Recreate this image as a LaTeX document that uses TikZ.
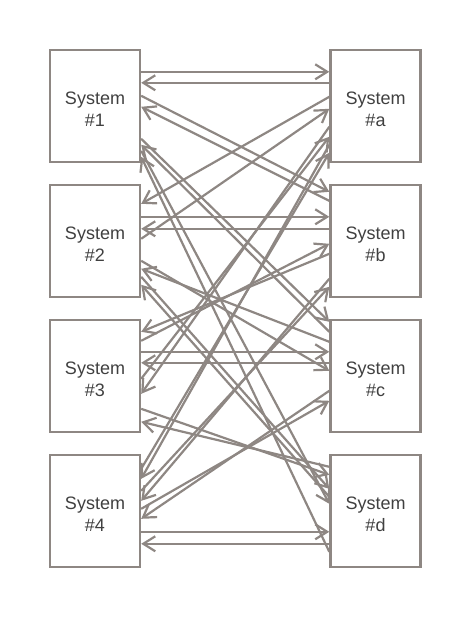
\documentclass[tikz,border=0pt]{standalone}
\usepackage{fontspec}
\setmainfont{Liberation Sans}
\usetikzlibrary{arrows.meta}
\definecolor{linegray}{RGB}{142,135,131}
\definecolor{textgray}{RGB}{64,64,64}
\newcommand{\sysname}[1]{\rule{0pt}{19pt}System\\\##1}
\begin{document}
\begin{tikzpicture}[
  x=1pt, y=-1pt,
  sysbox/.style={rectangle,draw=linegray,line width=2.4pt,fill=white,minimum width=90pt,minimum height=112pt,
    align=center,text=textgray,font=\fontsize{18}{22}\selectfont},
  arr/.style={draw=linegray,line width=2.2pt,-{Straight Barb[length=12pt,width=15pt,line width=2.2pt]}}
]
\useasboundingbox (0,0) rectangle (474,617);
% left column
\node[sysbox] (l1) at (95,106) {\sysname{1}};
\node[sysbox] (l2) at (95,241) {\sysname{2}};
\node[sysbox] (l3) at (95,376) {\sysname{3}};
\node[sysbox] (l4) at (95,511) {\sysname{4}};
% right column
\node[sysbox] (ra) at (375.5,106) {\sysname{a}};
\node[sysbox] (rb) at (375.5,241) {\sysname{b}};
\node[sysbox] (rc) at (375.5,376) {\sysname{c}};
\node[sysbox] (rd) at (375.5,511) {\sysname{d}};
% left to right
\foreach \l/\lo/\r/\ro in {l1/23/ra/23, l1/47/rb/8, l1/90/rc/3, l1/102/rd/50,
    l2/55/ra/60, l2/33/rb/33, l2/77/rc/52, l2/93/rd/35,
    l3/60/ra/88, l3/22/rb/60, l3/33/rc/33, l3/90/rd/21,
    l4/15/ra/104, l4/37/rb/103, l4/55/rc/82, l4/78/rd/78}
  \draw[arr] ([yshift=-\lo pt]\l.north east) -- ([yshift=-\ro pt]\r.north west);
% right to left
\foreach \r/\ro/\l/\lo in {ra/34/l1/34, rb/17/l1/58, rc/13/l1/96, rd/98/l1/108,
    ra/48/l2/20, rb/45/l2/45, rc/23/l2/85, rd/43/l2/101,
    ra/78/l3/75, rb/70/l3/13, rc/44/l3/44, rd/13/l3/103,
    ra/96/l4/25, rb/95/l4/47, rc/72/l4/65, rd/90/l4/90}
  \draw[arr] ([yshift=-\ro pt]\r.north west) -- ([yshift=-\lo pt]\l.north east);
\end{tikzpicture}
\end{document}
